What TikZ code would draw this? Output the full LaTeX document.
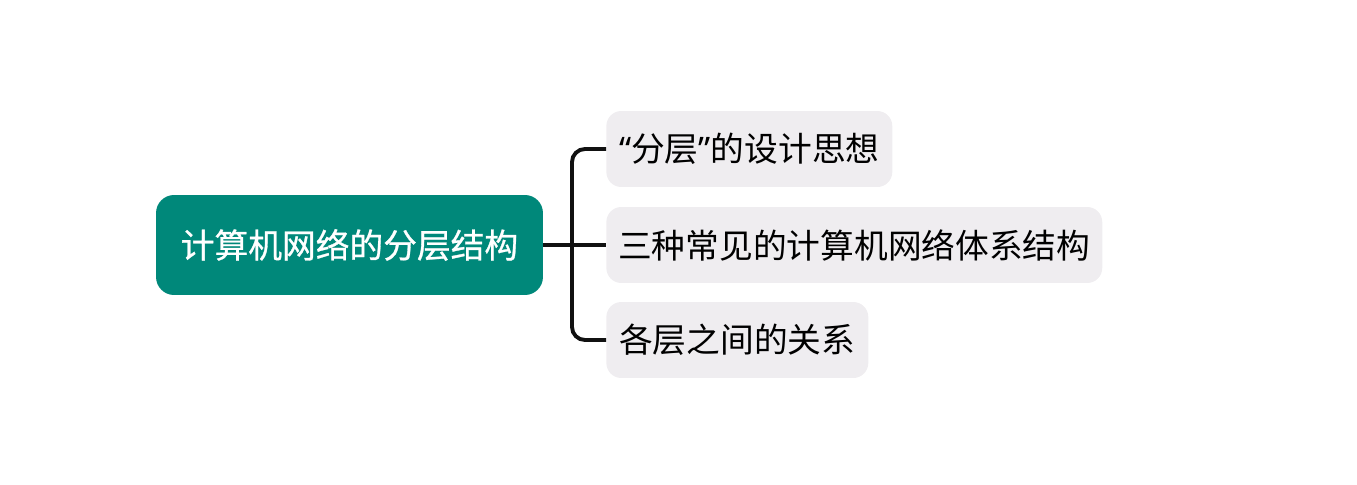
\documentclass[tikz,border=0pt]{standalone}
\usepackage{fontspec}
\usepackage{tikz}
\usepackage{xcolor}
\usetikzlibrary{positioning,calc}
\newfontfamily\cjk{Noto Sans CJK SC}
\newfontfamily\cjkroot[FakeBold=0.8]{Noto Sans CJK SC}
\newfontfamily\quotefont{Noto Sans}
\definecolor{MapTeal}{HTML}{00887A}
\definecolor{MapGray}{HTML}{EFEDF0}
\definecolor{MapLine}{HTML}{111111}
\tikzset{
    % Root topic style
    rootnode/.style={
        fill=MapTeal,
        text=white,
        rounded corners=0.36cm,
        minimum width=7.74cm,
        minimum height=2cm,
        align=center,
        font=\cjkroot\fontsize{19.2}{23}\selectfont
    },
    % Subtopic style
    subnode/.style={
        fill=MapGray,
        text=black,
        rounded corners=0.3cm,
        minimum height=1.52cm,
        inner xsep=0.2cm,
        anchor=west,
        align=left,
        font=\cjk\fontsize{19.2}{23}\selectfont
    },
    % Branch lines
    branch/.style={
        line width=2.2pt,
        draw=MapLine,
        rounded corners=0.26cm
    }
}
\begin{document}
\begin{tikzpicture}[x=0.02cm,y=-0.02cm]
        \useasboundingbox (0,0) rectangle (1357,484);

        % Root topic
        \node[rootnode] (root) at (349.5,245) {计算机网络的分层结构};

        % Subtopics
        \node[subnode, minimum width=5.72cm] (s1) at (606,149) {{\quotefont “}分层{\quotefont ”}的设计思想};
        \node[subnode, minimum width=9.92cm] (s2) at (606,245) {三种常见的计算机网络体系结构};
        \node[subnode, minimum width=5.24cm] (s3) at (606,340) {各层之间的关系};

        % Branches
        \draw[branch] (s1.west) -- ++(-34,0) |- (s3.west);
        \draw[branch] (root.east) -- (s2.west);
    \end{tikzpicture}
\end{document}
